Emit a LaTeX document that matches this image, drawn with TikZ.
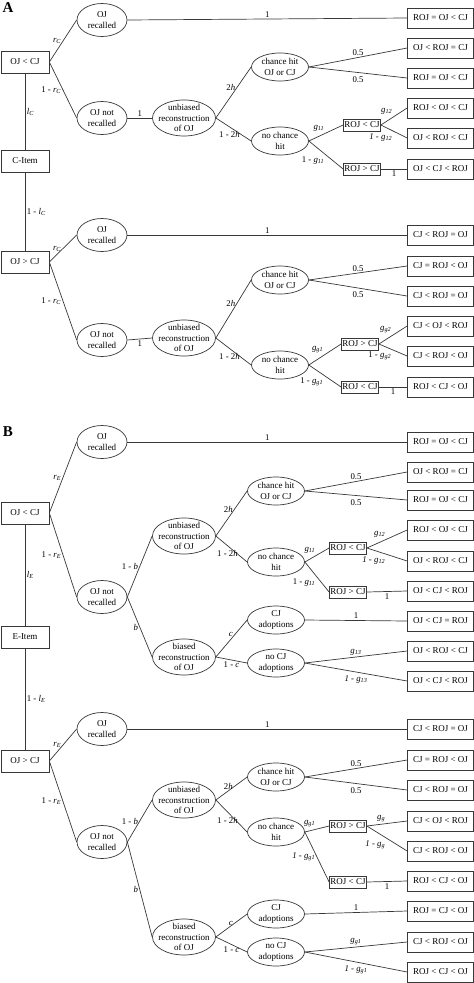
\documentclass[tikz,border=0pt]{standalone}
\usepackage{fontspec}
\setmainfont{Liberation Serif}
\usetikzlibrary{shapes.geometric}
\newcommand{\pv}[2]{\textit{#1}\textsubscript{\textit{#2}}}

\begin{document}
\begin{tikzpicture}[x=1pt,y=-1pt,
    every node/.style={font=\fontsize{9}{10.5}\selectfont},
    branch/.style={draw=black!78,line width=.7pt},
    startbox/.style={draw=black!78,line width=.7pt,minimum width=48pt,minimum height=22pt,inner sep=1pt},
    outbox/.style={draw=black!78,line width=.7pt,minimum width=66pt,minimum height=20pt,inner sep=1pt},
    midbox/.style={draw=black!78,line width=.7pt,minimum height=12pt,inner sep=1pt},
    oval/.style={ellipse,draw=black!78,line width=.7pt,align=center,inner xsep=-12pt,inner ysep=-10pt},
    ovs/.style={oval,minimum width=50pt,minimum height=33pt},
    ovl/.style={oval,minimum width=63pt,minimum height=36pt},
    ovm/.style={oval,minimum width=57pt,minimum height=28pt},
    lab/.style={font=\fontsize{8.8}{10}\selectfont,inner sep=1.5pt},
    panel/.style={font=\fontsize{15}{15}\selectfont\bfseries,inner sep=0pt}]
\useasboundingbox (0,0) rectangle (474,983);

\node (panA) at (8,8) [panel] {A};
\node (ca-root) at (25,62) [startbox] {OJ < CJ};
\node (ca-rec) at (102,20) [ovs] {OJ\\recalled};
\node (ca-not) at (102,118) [ovs] {OJ not\\recalled};
\node (ca-unb) at (184,118) [ovl] {unbiased\\reconstruction\\of OJ};
\node (ca-hit) at (280,67) [ovm] {chance hit\\OJ or CJ};
\node (ca-nohit) at (280,141) [ovm] {no chance\\hit};
\node (ca-lt) at (362,125) [midbox] {ROJ < CJ};
\node (ca-gt) at (362,169) [midbox] {ROJ > CJ};
\node (ca-o1) at (440.5,18) [outbox] {ROJ = OJ < CJ};
\node (ca-o2) at (440.5,48) [outbox] {OJ < ROJ = CJ};
\node (ca-o3) at (440.5,78) [outbox] {ROJ = OJ < CJ};
\node (ca-o4) at (440.5,108) [outbox] {ROJ < OJ < CJ};
\node (ca-o5) at (440.5,138) [outbox] {OJ < ROJ < CJ};
\node (ca-o6) at (440.5,169) [outbox] {OJ < CJ < ROJ};
\node (c-item) at (25,161) [startbox] {C-Item};

\draw[branch] (ca-root.east) -- (ca-rec.west) node[lab,midway,left] {\pv{r}{C}};
\draw[branch] (ca-root.east) -- (ca-not.west) node[lab,midway,left] {1 - \pv{r}{C}};
\draw[branch] (ca-rec.east) -- (ca-o1.west) node[lab,midway,above] {1};
\draw[branch] (ca-not.east) -- (ca-unb.west) node[lab,midway,above] {1};
\draw[branch] (ca-unb.east) -- (ca-hit.west) node[lab,pos=.6,left] {2\textit{h}};
\draw[branch] (ca-unb.east) -- (ca-nohit.west) node[lab,midway,below,xshift=-4pt] {1 - 2\textit{h}};
\draw[branch] (ca-hit.east) -- (ca-o2.west) node[lab,midway,above] {0.5};
\draw[branch] (ca-hit.east) -- (ca-o3.west) node[lab,midway,below=2pt] {0.5};
\draw[branch] (ca-nohit.east) -- (ca-lt.west) node[lab,midway,above left] {\pv{g}{11}};
\draw[branch] (ca-nohit.east) -- (ca-gt.west) node[lab,midway,below left] {1 - \pv{g}{11}};
\draw[branch] (ca-lt.east) -- (ca-o4.west) node[lab,midway,above left] {\pv{g}{12}};
\draw[branch] (ca-lt.east) -- (ca-o5.west) node[lab,midway,below left] {\textit{1} - \pv{g}{12}};
\draw[branch] (ca-gt.east) -- (ca-o6.west) node[lab,midway,below] {1};
\draw[branch] (ca-root.south) -- (c-item.north) node[lab,midway,right] {\pv{l}{C}};

\node (cb-root) at (25,262) [startbox] {OJ > CJ};
\node (cb-rec) at (102,235) [ovs] {OJ\\recalled};
\node (cb-not) at (102,340) [ovs] {OJ not\\recalled};
\node (cb-unb) at (184,338) [ovl] {unbiased\\reconstruction\\of OJ};
\node (cb-hit) at (280,280) [ovm] {chance hit\\OJ or CJ};
\node (cb-nohit) at (280,365) [ovm] {no chance\\hit};
\node (cb-gt) at (360,344) [midbox] {ROJ > CJ};
\node (cb-lt) at (360,387) [midbox] {ROJ < CJ};
\node (cb-o1) at (440.5,235) [outbox] {CJ < ROJ = OJ};
\node (cb-o2) at (440.5,266) [outbox] {CJ = ROJ < OJ};
\node (cb-o3) at (440.5,296) [outbox] {CJ < ROJ = OJ};
\node (cb-o4) at (440.5,326) [outbox] {CJ < OJ < ROJ};
\node (cb-o5) at (440.5,356) [outbox] {CJ < ROJ < OJ};
\node (cb-o6) at (440.5,387) [outbox] {ROJ < CJ < OJ};

\draw[branch] (c-item.south) -- (cb-root.north) node[lab,midway,right] {1 - \pv{l}{C}};
\draw[branch] (cb-root.east) -- (cb-rec.west) node[lab,midway,left] {\pv{r}{C}};
\draw[branch] (cb-root.east) -- (cb-not.west) node[lab,midway,left] {1 - \pv{r}{C}};
\draw[branch] (cb-rec.east) -- (cb-o1.west) node[lab,midway,above] {1};
\draw[branch] (cb-not.east) -- (cb-unb.west) node[lab,midway,below] {1};
\draw[branch] (cb-unb.east) -- (cb-hit.west) node[lab,pos=.6,left] {2\textit{h}};
\draw[branch] (cb-unb.east) -- (cb-nohit.west) node[lab,midway,below,xshift=-4pt] {1 - 2\textit{h}};
\draw[branch] (cb-hit.east) -- (cb-o2.west) node[lab,midway,above] {0.5};
\draw[branch] (cb-hit.east) -- (cb-o3.west) node[lab,midway,below=2pt] {0.5};
\draw[branch] (cb-nohit.east) -- (cb-gt.west) node[lab,midway,above left] {\pv{g}{g1}};
\draw[branch] (cb-nohit.east) -- (cb-lt.west) node[lab,midway,below left] {1 - \pv{g}{g1}};
\draw[branch] (cb-gt.east) -- (cb-o4.west) node[lab,midway,above left] {\pv{g}{g2}};
\draw[branch] (cb-gt.east) -- (cb-o5.west) node[lab,midway,below left] {1 - \pv{g}{g2}};
\draw[branch] (cb-lt.east) -- (cb-o6.west) node[lab,midway,below] {1};

\node (panB) at (8,432) [panel] {B};
\node (ea-root) at (25,513) [startbox] {OJ < CJ};
\node (ea-rec) at (102,442) [ovs] {OJ\\recalled};
\node (ea-not) at (102,597) [ovs] {OJ not\\recalled};
\node (ea-unb) at (184,536) [ovl] {unbiased\\reconstruction\\of OJ};
\node (ea-bia) at (184,657) [ovl] {biased\\reconstruction\\of OJ};
\node (ea-hit) at (276,491) [ovm] {chance hit\\OJ or CJ};
\node (ea-nohit) at (276,562) [ovm] {no chance\\hit};
\node (ea-adopt) at (276,620) [ovm] {CJ\\adoptions};
\node (ea-noadopt) at (276,663) [ovm] {no CJ\\adoptions};
\node (ea-lt) at (348,548) [midbox] {ROJ < CJ};
\node (ea-gt) at (348,592) [midbox] {ROJ > CJ};
\node (ea-o1) at (440.5,442) [outbox] {ROJ = OJ < CJ};
\node (ea-o2) at (440.5,472) [outbox] {OJ < ROJ = CJ};
\node (ea-o3) at (440.5,500) [outbox] {ROJ = OJ < CJ};
\node (ea-o4) at (440.5,530) [outbox] {ROJ < OJ < CJ};
\node (ea-o5) at (440.5,561) [outbox] {OJ < ROJ < CJ};
\node (ea-o6) at (440.5,591) [outbox] {OJ < CJ < ROJ};
\node (ea-o7) at (440.5,621) [outbox] {OJ < CJ = ROJ};
\node (ea-o8) at (440.5,651) [outbox] {OJ < ROJ < CJ};
\node (ea-o9) at (440.5,681) [outbox] {OJ < CJ < ROJ};
\node (e-item) at (25,637) [startbox] {E-Item};

\draw[branch] (ea-root.east) -- (ea-rec.west) node[lab,midway,left] {\pv{r}{E}};
\draw[branch] (ea-root.east) -- (ea-not.west) node[lab,midway,left] {1 - \pv{r}{E}};
\draw[branch] (ea-rec.east) -- (ea-o1.west) node[lab,midway,above] {1};
\draw[branch] (ea-not.east) -- (ea-unb.west) node[lab,midway,left] {1 - \textit{b}};
\draw[branch] (ea-not.east) -- (ea-bia.west) node[lab,midway,left] {\textit{b}};
\draw[branch] (ea-unb.east) -- (ea-hit.west) node[lab,pos=.6,left] {2\textit{h}};
\draw[branch] (ea-unb.east) -- (ea-nohit.west) node[lab,midway,below,xshift=-4pt] {1 - 2\textit{h}};
\draw[branch] (ea-bia.east) -- (ea-adopt.west) node[lab,pos=.6,left] {\textit{c}};
\draw[branch] (ea-bia.east) -- (ea-noadopt.west) node[lab,midway,below] {1 - \textit{c}};
\draw[branch] (ea-hit.east) -- (ea-o2.west) node[lab,midway,above] {0.5};
\draw[branch] (ea-hit.east) -- (ea-o3.west) node[lab,midway,below=2pt] {0.5};
\draw[branch] (ea-nohit.east) -- (ea-lt.west) node[lab,midway,above left] {\pv{g}{11}};
\draw[branch] (ea-nohit.east) -- (ea-gt.west) node[lab,midway,below left] {1 - \pv{g}{11}};
\draw[branch] (ea-lt.east) -- (ea-o4.west) node[lab,midway,above left] {\pv{g}{12}};
\draw[branch] (ea-lt.east) -- (ea-o5.west) node[lab,midway,below left] {\textit{1} - \pv{g}{12}};
\draw[branch] (ea-gt.east) -- (ea-o6.west) node[lab,midway,below] {1};
\draw[branch] (ea-adopt.east) -- (ea-o7.west) node[lab,midway,above] {1};
\draw[branch] (ea-noadopt.east) -- (ea-o8.west) node[lab,midway,above] {\pv{g}{13}};
\draw[branch] (ea-noadopt.east) -- (ea-o9.west) node[lab,midway,below=2pt] {\textit{1} - \pv{g}{13}};
\draw[branch] (ea-root.south) -- (e-item.north) node[lab,midway,right] {\pv{l}{E}};

\node (eb-root) at (25,761) [startbox] {OJ > CJ};
\node (eb-rec) at (102,729) [ovs] {OJ\\recalled};
\node (eb-not) at (102,842) [ovs] {OJ not\\recalled};
\node (eb-unb) at (184,800) [ovl] {unbiased\\reconstruction\\of OJ};
\node (eb-bia) at (184,937) [ovl] {biased\\reconstruction\\of OJ};
\node (eb-hit) at (276,777) [ovm] {chance hit\\OJ or CJ};
\node (eb-nohit) at (276,832) [ovm] {no chance\\hit};
\node (eb-adopt) at (276,914) [ovm] {CJ\\adoptions};
\node (eb-noadopt) at (276,952) [ovm] {no CJ\\adoptions};
\node (eb-gt) at (348,826) [midbox] {ROJ > CJ};
\node (eb-lt) at (348,882) [midbox] {ROJ < CJ};
\node (eb-o1) at (440.5,729) [outbox] {CJ < ROJ = OJ};
\node (eb-o2) at (440.5,760) [outbox] {CJ = ROJ < OJ};
\node (eb-o3) at (440.5,790) [outbox] {CJ < ROJ = OJ};
\node (eb-o4) at (440.5,821) [outbox] {CJ < OJ < ROJ};
\node (eb-o5) at (440.5,851) [outbox] {CJ < ROJ < OJ};
\node (eb-o6) at (440.5,881) [outbox] {ROJ < CJ < OJ};
\node (eb-o7) at (440.5,911) [outbox] {ROJ = CJ < OJ};
\node (eb-o8) at (440.5,942) [outbox] {CJ < ROJ < OJ};
\node (eb-o9) at (440.5,972) [outbox] {ROJ < CJ < OJ};

\draw[branch] (e-item.south) -- (eb-root.north) node[lab,midway,right] {1 - \pv{l}{E}};
\draw[branch] (eb-root.east) -- (eb-rec.west) node[lab,midway,left] {\pv{r}{E}};
\draw[branch] (eb-root.east) -- (eb-not.west) node[lab,midway,left] {1 - \pv{r}{E}};
\draw[branch] (eb-rec.east) -- (eb-o1.west) node[lab,midway,above] {1};
\draw[branch] (eb-not.east) -- (eb-unb.west) node[lab,midway,left] {1 - \textit{b}};
\draw[branch] (eb-not.east) -- (eb-bia.west) node[lab,midway,left] {\textit{b}};
\draw[branch] (eb-unb.east) -- (eb-hit.west) node[lab,pos=.6,left] {2\textit{h}};
\draw[branch] (eb-unb.east) -- (eb-nohit.west) node[lab,midway,below,xshift=-4pt] {1 - 2\textit{h}};
\draw[branch] (eb-bia.east) -- (eb-adopt.west) node[lab,pos=.6,left] {\textit{c}};
\draw[branch] (eb-bia.east) -- (eb-noadopt.west) node[lab,midway,below] {1 - \textit{c}};
\draw[branch] (eb-hit.east) -- (eb-o2.west) node[lab,midway,above] {0.5};
\draw[branch] (eb-hit.east) -- (eb-o3.west) node[lab,midway,below=2pt] {0.5};
\draw[branch] (eb-nohit.east) -- (eb-gt.west) node[lab,midway,above left] {\pv{g}{g1}};
\draw[branch] (eb-nohit.east) -- (eb-lt.west) node[lab,midway,left] {\textit{1} - \pv{g}{g1}};
\draw[branch] (eb-gt.east) -- (eb-o4.west) node[lab,midway,above left] {\pv{g}{g}};
\draw[branch] (eb-gt.east) -- (eb-o5.west) node[lab,midway,below left] {\textit{1} - \pv{g}{g}};
\draw[branch] (eb-lt.east) -- (eb-o6.west) node[lab,midway,below] {1};
\draw[branch] (eb-adopt.east) -- (eb-o7.west) node[lab,midway,above] {1};
\draw[branch] (eb-noadopt.east) -- (eb-o8.west) node[lab,midway,above] {\pv{g}{g1}};
\draw[branch] (eb-noadopt.east) -- (eb-o9.west) node[lab,midway,below=2pt] {\textit{1} - \pv{g}{g1}};
\end{tikzpicture}
\end{document}
